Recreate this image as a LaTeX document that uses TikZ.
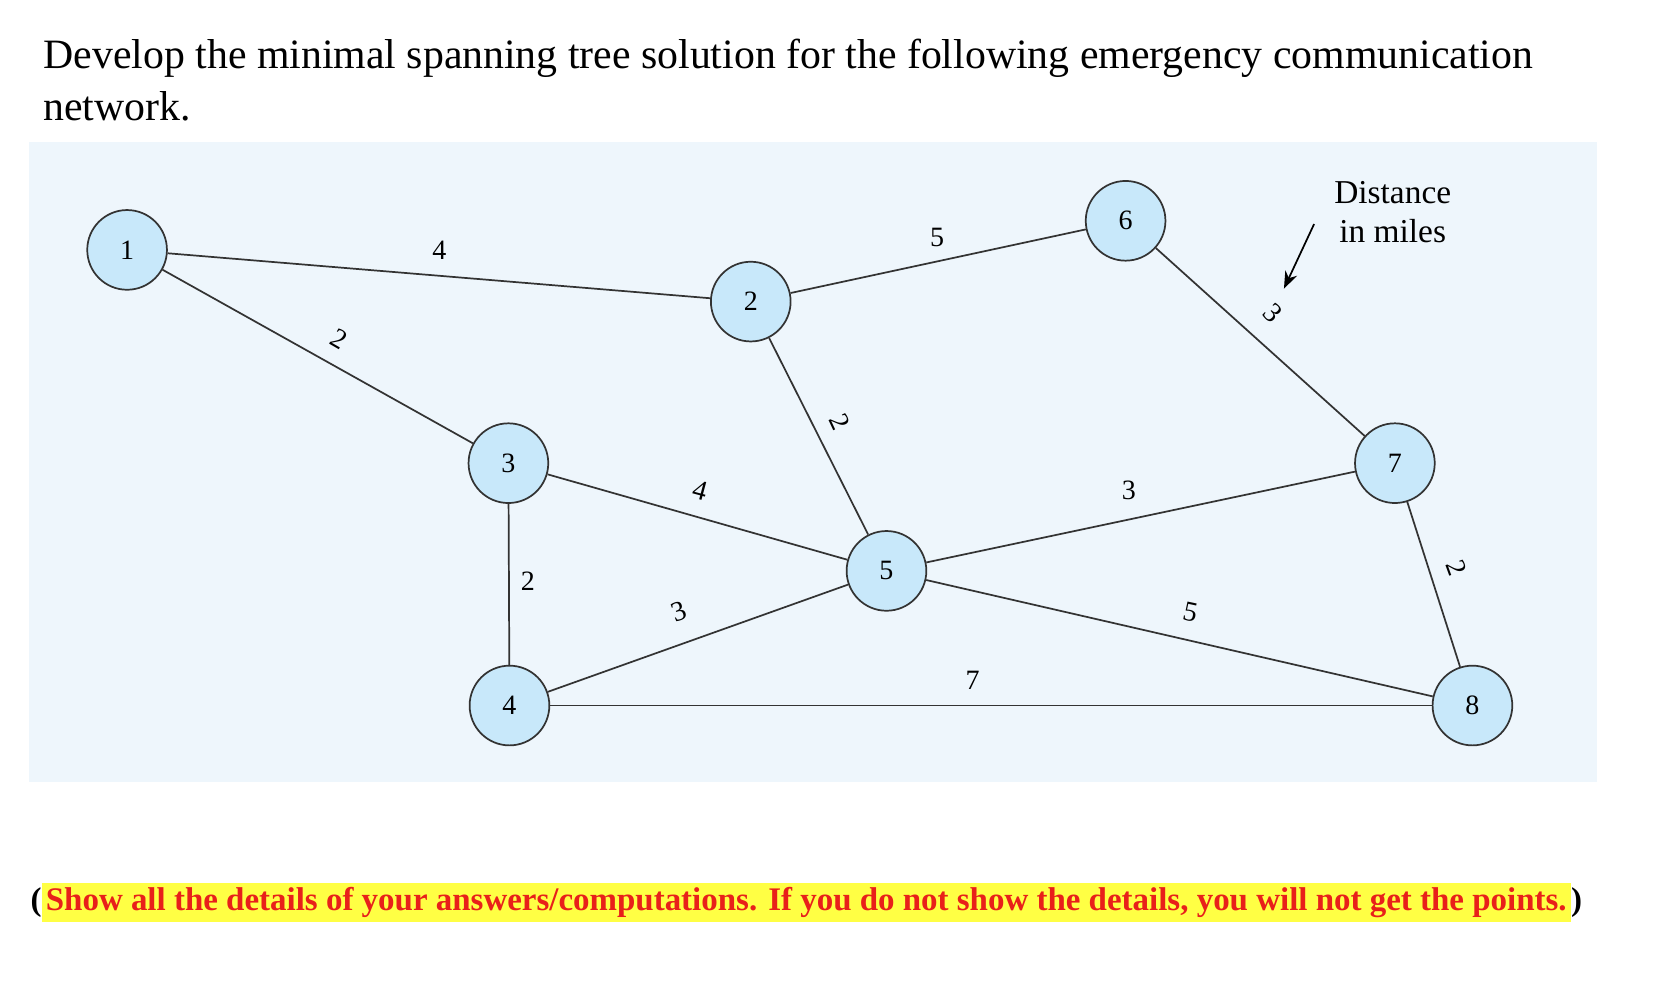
\documentclass[tikz,border=0pt]{standalone}
\usepackage{fontspec}
\usetikzlibrary{arrows.meta}
\setmainfont{Liberation Serif}
\definecolor{bgblue}{HTML}{EEF6FC}
\definecolor{nodeblue}{HTML}{C8E8FA}
\definecolor{hl}{HTML}{FFFF44}
\definecolor{redtxt}{HTML}{E8201A}
\begin{document}
\begin{tikzpicture}[x=0.5pt,y=-0.5pt,
  vtx/.style={circle,draw=black!80,thick,fill=nodeblue,minimum size=37pt,inner sep=0pt,font=\fontsize{13}{13}\selectfont},
  edge/.style={draw=black!80,thick},
  wt/.style={font=\fontsize{13}{13}\selectfont,inner sep=1pt}]
\useasboundingbox (0,0) rectangle (1556,932);
\fill[white] (0,0) rectangle (1556,932);
\fill[bgblue] (27,132) rectangle (1483,726);
\node[anchor=base west,inner sep=0,font=\fontsize{19.4}{19.4}\selectfont] (t1) at (40,64) {Develop the minimal spanning tree solution for the following emergency communication};
\node[anchor=base west,inner sep=0,font=\fontsize{19.4}{19.4}\selectfont] (t2) at (40,112) {network.};
\node[vtx] (n1) at (118,232) {1};
\node[vtx] (n2) at (697,280) {2};
\node[vtx] (n6) at (1045,205) {6};
\node[vtx] (n3) at (472,430) {3};
\node[vtx] (n7) at (1295,430) {7};
\node[vtx] (n5) at (823,530) {5};
\node[vtx] (n4) at (473,655) {4};
\node[vtx] (n8) at (1367,655) {8};
\draw[edge] (n1)--(n2); \draw[edge] (n1)--(n3); \draw[edge] (n2)--(n6);
\draw[edge] (n2)--(n5); \draw[edge] (n6)--(n7); \draw[edge] (n3)--(n5);
\draw[edge] (n3)--(n4); \draw[edge] (n4)--(n5); \draw[edge] (n5)--(n7);
\draw[edge] (n5)--(n8); \draw[edge] (n4)--(n8); \draw[edge] (n7)--(n8);
\node[wt] (w12) at (408,232) {4};
\node[wt,rotate=-30] (w13) at (315,315) {2};
\node[wt] (w26) at (870,220) {5};
\node[wt,rotate=-45] (w67) at (1182,291) {3};
\node[wt,rotate=-65] (w25) at (780,392) {2};
\node[wt,rotate=-15] (w35) at (650,455) {4};
\node[wt] (w57) at (1048,455) {3};
\node[wt] (w34) at (490,540) {2};
\node[wt,rotate=20] (w45) at (630,568) {3};
\node[wt,rotate=-12] (w58) at (1105,568) {5};
\node[wt] (w48) at (903,632) {7};
\node[wt,rotate=-70] (w78) at (1352,527) {2};
\node[font=\fontsize{15.5}{18}\selectfont,align=center] (dist) at (1293,197) {Distance\\in miles};
\coordinate (a0) at (1220,208);
\coordinate (a1) at (1192,268);
\draw[thick,-{Stealth[length=8pt,width=6pt]}] (a0)--(a1);
\node[anchor=base west,inner sep=0,font=\fontsize{15.3}{15.3}\selectfont\bfseries] (bt) at (28,845)
 {(\setlength{\fboxsep}{2pt}\colorbox{hl}{\color{redtxt}Show all the details of your answers/computations. If you do not show the details, you will not get the points.})};
\end{tikzpicture}
\end{document}
